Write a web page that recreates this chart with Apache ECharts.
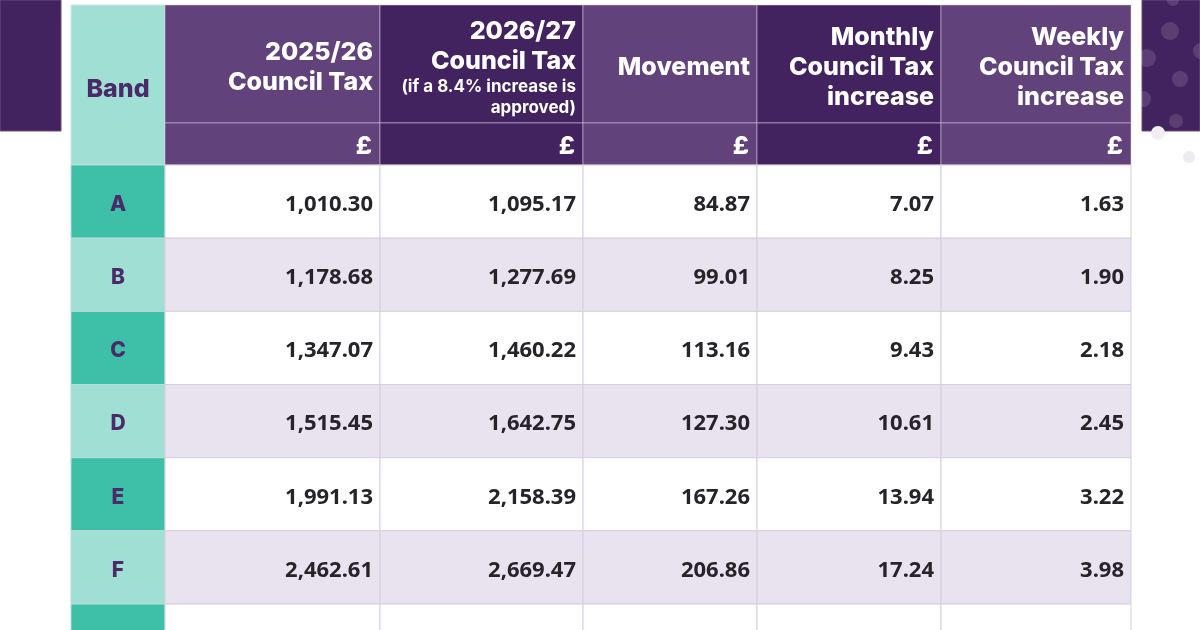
<!DOCTYPE html>
<html>
<head>
<meta charset="utf-8">
<script src="https://cdn.jsdelivr.net/npm/echarts@6/dist/echarts.min.js"></script>
<style>
  html, body { margin: 0; padding: 0; background: #fff; }
  #chart { width: 1200px; height: 630px; }
</style>
</head>
<body>
<div id="chart"></div>
<script>
// table data
var bands = ['A', 'B', 'C', 'D', 'E', 'F', 'G'];
var tax2526 = [1010.30, 1178.68, 1347.07, 1515.45, 1991.13, 2462.61, null];
var tax2627 = [1095.17, 1277.69, 1460.22, 1642.75, 2158.39, 2669.47, null];
var movement = [84.87, 99.01, 113.16, 127.30, 167.26, 206.86, null];
var monthly = [7.07, 8.25, 9.43, 10.61, 13.94, 17.24, null];
var weekly = [1.63, 1.90, 2.18, 2.45, 3.22, 3.98, null];

var headTitles = [
  ['Band'],
  ['2025/26', 'Council Tax'],
  ['2026/27', 'Council Tax'],
  ['Movement'],
  ['Monthly', 'Council Tax', 'increase'],
  ['Weekly', 'Council Tax', 'increase']
];
var headNotes = ['', '', '(if a 8.4% increase is\napproved)', '', '', ''];
var unitLabel = '£';

// layout (column / header row boundaries in table units)
var COL_EDGES = [0, 94, 309, 512, 686, 870, 1060];
var HEAD_EDGES = [0, 118, 160];
var ROWS_VISIBLE = 465 / 73.17;

var PURPLE_LIGHT = '#62427b';
var PURPLE_DARK = '#43235f';
var TEAL = '#3dbfa8';
var TEAL_LIGHT = '#a0dfd4';
var LAVENDER = '#e8e3ee';
var INK = '#4b2a69';
var NUM = '#262329';
var HEAD_FONT = 'Inter, Lato, sans-serif';
var NUM_FONT = '"Noto Sans", "Open Sans", sans-serif';

var columns = [tax2526, tax2627, movement, monthly, weekly];

function fmt(v) {
  if (v == null) return '';
  return v.toLocaleString('en-GB', { minimumFractionDigits: 2, maximumFractionDigits: 2 });
}

function headFill(c) {
  if (c === 0) return TEAL_LIGHT;
  return c % 2 === 1 ? PURPLE_LIGHT : PURPLE_DARK;
}

// header cells: [col, row]
var headData = [[0, 0]];
for (var c = 1; c < headTitles.length; c++) {
  headData.push([c, 0]);
  headData.push([c, 1]);
}

// body cells: [col, row]
var bodyData = [];
for (var r = 0; r < bands.length; r++) {
  for (var c2 = 0; c2 < COL_EDGES.length - 1; c2++) bodyData.push([c2, r]);
}

function renderHead(params, api) {
  var c = api.value(0), r = api.value(1);
  var p0, p1;
  if (c === 0) {
    p0 = api.coord([COL_EDGES[0], HEAD_EDGES[0]]);
    p1 = api.coord([COL_EDGES[1], HEAD_EDGES[2]]);
  } else {
    p0 = api.coord([COL_EDGES[c], HEAD_EDGES[r]]);
    p1 = api.coord([COL_EDGES[c + 1], HEAD_EDGES[r + 1]]);
  }
  var children = [{
    type: 'rect',
    shape: { x: p0[0], y: p0[1], width: p1[0] - p0[0], height: p1[1] - p0[1] },
    style: { fill: headFill(c), stroke: c === 0 ? '#c9e9e3' : 'rgba(215,205,228,0.55)', lineWidth: 1 }
  }];
  var yc = (p0[1] + p1[1]) / 2;
  if (c === 0) {
    children.push({
      type: 'text',
      style: {
        text: headTitles[0][0], x: (p0[0] + p1[0]) / 2, y: yc + 4,
        align: 'center', verticalAlign: 'middle',
        fill: INK, fontFamily: HEAD_FONT, fontSize: 25, fontWeight: 800
      }
    });
  } else if (r === 0) {
    var parts = headTitles[c].map(function (s) { return '{t|' + s + '}'; });
    if (headNotes[c]) {
      headNotes[c].split('\n').forEach(function (s) { parts.push('{n|' + s + '}'); });
    }
    children.push({
      type: 'text',
      style: {
        text: parts.join('\n'), x: p1[0] - 7, y: yc + 3,
        align: 'right', verticalAlign: 'middle', fill: '#fff',
        rich: {
          t: { fontFamily: HEAD_FONT, fontSize: 25, fontWeight: 800, lineHeight: 30, fill: '#fff', align: 'right' },
          n: { fontFamily: HEAD_FONT, fontSize: 17, fontWeight: 700, lineHeight: 21, fill: '#fff', align: 'right' }
        }
      }
    });
  } else {
    children.push({
      type: 'text',
      style: {
        text: unitLabel, x: p1[0] - 8, y: yc + 2,
        align: 'right', verticalAlign: 'middle',
        fill: '#fff', fontFamily: HEAD_FONT, fontSize: 25, fontWeight: 800
      }
    });
  }
  return { type: 'group', children: children };
}

function renderBody(params, api) {
  var c = api.value(0), r = api.value(1);
  var tl = api.coord([COL_EDGES[c], r - 0.5]);
  var br = api.coord([COL_EDGES[c + 1], r + 0.5]);
  var yc = (tl[1] + br[1]) / 2;
  var fill;
  if (c === 0) fill = r % 2 === 0 ? TEAL : TEAL_LIGHT;
  else fill = r % 2 === 0 ? '#ffffff' : LAVENDER;
  var children = [{
    type: 'rect',
    shape: { x: tl[0], y: tl[1], width: br[0] - tl[0], height: br[1] - tl[1] },
    style: { fill: fill, stroke: c === 0 ? '#b9ddd6' : '#d6cee0', lineWidth: 1 }
  }];
  if (c === 0) {
    children.push({
      type: 'text',
      style: {
        text: bands[r], x: (tl[0] + br[0]) / 2, y: yc + 3,
        align: 'center', verticalAlign: 'middle',
        fill: INK, fontFamily: HEAD_FONT, fontSize: 21, fontWeight: 800
      }
    });
  } else {
    children.push({
      type: 'text',
      style: {
        text: fmt(columns[c - 1][r]), x: br[0] - 7, y: yc + 3,
        align: 'right', verticalAlign: 'middle',
        fill: NUM, fontFamily: NUM_FONT, fontSize: 22, fontWeight: 'bold'
      }
    });
  }
  return { type: 'group', children: children };
}

// decorative dots in top-right panel
var dots = [
  [1170, 31, 9], [1147, 58, 9], [1180, 79, 8], [1143, 99, 8],
  [1176, 121, 7], [1173, 0, 6], [1201, 51, 8]
];
var dotGraphics = dots.map(function (d) {
  return { type: 'circle', shape: { cx: d[0], cy: d[1], r: d[2] }, style: { fill: 'rgba(255,255,255,0.13)' } };
});

var chart = echarts.init(document.getElementById('chart'));
chart.setOption({
  animation: false,
  backgroundColor: '#ffffff',
  graphic: [
    { type: 'rect', shape: { x: 0, y: 0, width: 61, height: 131 }, style: { fill: PURPLE_DARK, stroke: '#6a4f84', lineWidth: 1 } },
    {
      type: 'group', children: [
        { type: 'rect', shape: { x: 1142, y: 0, width: 58, height: 131 }, style: { fill: PURPLE_DARK, stroke: '#6a4f84', lineWidth: 1 } }
      ].concat(dotGraphics).concat([
        { type: 'circle', shape: { cx: 1158, cy: 133, r: 7 }, style: { fill: '#f1eff4' } },
        { type: 'circle', shape: { cx: 1189, cy: 157, r: 6 }, style: { fill: '#eeecf1' } }
      ])
    }
  ],
  grid: [
    { left: 71, top: 5, width: 1060, height: 160 },
    { left: 71, top: 165, width: 1060, bottom: 0 }
  ],
  xAxis: [
    { gridIndex: 0, type: 'value', min: 0, max: 1060, show: false },
    { gridIndex: 1, type: 'value', min: 0, max: 1060, show: false }
  ],
  yAxis: [
    { gridIndex: 0, type: 'value', min: 0, max: 160, inverse: true, show: false },
    { gridIndex: 1, type: 'value', min: -0.5, max: -0.5 + ROWS_VISIBLE, inverse: true, show: false }
  ],
  series: [
    { type: 'custom', xAxisIndex: 0, yAxisIndex: 0, renderItem: renderHead, data: headData, clip: false, silent: true },
    { type: 'custom', xAxisIndex: 1, yAxisIndex: 1, renderItem: renderBody, data: bodyData, clip: false, silent: true }
  ]
});
</script>
</body>
</html>
